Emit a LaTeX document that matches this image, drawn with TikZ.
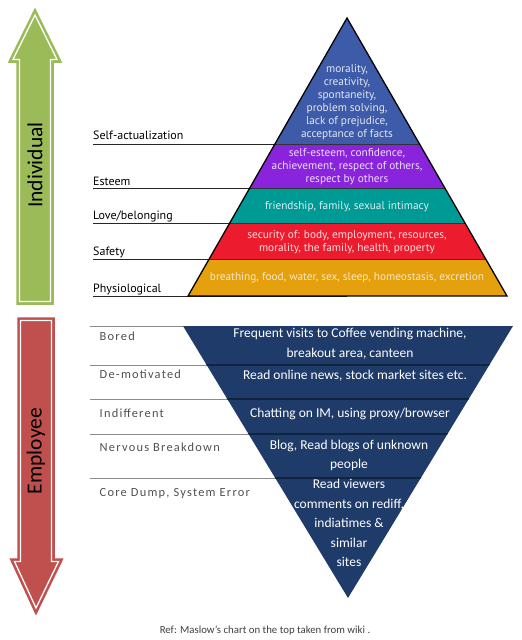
\documentclass[tikz,border=0pt]{standalone}
\usepackage{fontspec}
\setmainfont{PT Sans}
\newfontfamily\calfont{Carlito}
\newfontfamily\lblfont[LetterSpace=10]{Carlito}
\usetikzlibrary{calc}
\definecolor{indgreen}{HTML}{9BBB59}
\definecolor{empred}{HTML}{C0504D}
\definecolor{selfblue}{HTML}{3D5BA9}
\definecolor{esteempurple}{HTML}{8A24DC}
\definecolor{loveteal}{HTML}{009A94}
\definecolor{safetyred}{HTML}{EC1C2E}
\definecolor{physorange}{HTML}{E5A00D}
\definecolor{worknavy}{HTML}{1E3B69}
\definecolor{worksep}{HTML}{10243F}
\definecolor{labelgray}{HTML}{505050}

\begin{document}
\begin{tikzpicture}[x=1pt, y=-1pt,
    bandtext/.style={align=center, inner sep=0pt, font=\fontsize{11.3}{13}\selectfont},
    needlabel/.style={anchor=base west, inner sep=0pt, font=\fontsize{12}{12}\selectfont},
    worktext/.style={align=center, inner sep=0pt, text=white,
      font=\calfont\fontsize{13.5}{19.5}\selectfont},
    worklabel/.style={anchor=west, inner sep=0pt, text=labelgray,
      font=\lblfont\fontsize{12.4}{13}\selectfont},
    bigarrow/.style={line width=2.6pt, double distance=1.3pt, double=white, line join=miter},
    arrowtext/.style={rotate=90, inner sep=0pt, font=\calfont\fontsize{21.5}{21.5}\selectfont},
    levelline/.style={line width=0.9pt, draw=black!85},
    workline/.style={line width=0.8pt, draw=black!45}
  ]
  \useasboundingbox (0,0) rectangle (522,640);

  % side arrows
  \draw[bigarrow, draw=indgreen, fill=indgreen] (35,15) -- (57,59.5) -- (50.5,59.5)
    -- (50.5,301.5) -- (19.5,301.5) -- (19.5,59.5) -- (13,59.5) -- cycle;
  \node[arrowtext] (individual) at (35,165) {Individual};
  \draw[bigarrow, draw=empred, fill=empred] (20.5,320.5) -- (51.5,320.5) -- (51.5,561.5)
    -- (58.5,561.5) -- (36,608) -- (14.5,561.5) -- (20.5,561.5) -- cycle;
  \node[arrowtext] (employee) at (36,451) {Employee};

  % Maslow pyramid
  \coordinate (apex) at (347,18);
  \coordinate (pbl) at (188,296);
  \coordinate (pbr) at (507,296);
  \foreach \y in {144,188,223,259,296}
    \draw[levelline] (93,\y) coordinate (lvl\y) -- (lvl\y -| apex);
  \begin{scope}
    \clip (apex) -- (pbl) -- (pbr) -- cycle;
    \fill[selfblue] (0,0) rectangle (522,144);
    \fill[esteempurple] (0,144) rectangle (522,188);
    \fill[loveteal] (0,188) rectangle (522,223);
    \fill[safetyred] (0,223) rectangle (522,259);
    \fill[physorange] (0,259) rectangle (522,296);
    \foreach \y in {144,188,223,259}
      \draw[line width=0.9pt, black!80] (0,\y) -- (522,\y);
  \end{scope}
  \draw[line width=1.3pt, line join=miter] (apex) -- (pbl) -- (pbr) -- cycle;

  \node[bandtext, text=white!85!selfblue] (selftext) at (347,102.5)
    {morality,\\creativity,\\spontaneity,\\problem solving,\\lack of prejudice,\\acceptance of facts};
  \node[bandtext, text=white!85!esteempurple] (esteemtext) at (347,167)
    {self-esteem, confidence,\\achievement, respect of others,\\respect by others};
  \node[bandtext, text=white!85!loveteal] (lovetext) at (347,207)
    {friendship, family, sexual intimacy};
  \node[bandtext, text=white!85!safetyred] (safetytext) at (347,242.5)
    {security of: body, employment, resources,\\morality, the family, health, property};
  \node[bandtext, text=white!75!physorange] (phystext) at (347,278)
    {breathing, food, water, sex, sleep, homeostasis, excretion};

  \node[needlabel] (selfact) at (93,139) {Self-actualization};
  \node[needlabel] (esteem) at (93,185) {Esteem};
  \node[needlabel] (love) at (93,219) {Love/belonging};
  \node[needlabel] (safety) at (93,255) {Safety};
  \node[needlabel] (physio) at (93,292) {Physiological};

  % employee triangle
  \coordinate (vtl) at (183,326);
  \coordinate (vtr) at (513,326);
  \coordinate (vtip) at (348,598);
  \foreach \y in {326,365,399,434,478}
    \draw[workline] (90,\y) coordinate (wrk\y) -- (wrk\y -| vtip);
  \begin{scope}
    \clip (vtl) -- (vtr) -- (vtip) -- cycle;
    \fill[worknavy] (0,320) rectangle (522,600);
    \foreach \y in {365,399,434,478}
      \draw[line width=1.2pt, worksep] (0,\y) -- (522,\y);
  \end{scope}

  \node[worktext] (boredtext) at (350,343.5)
    {Frequent visits to Coffee vending machine,\\breakout area, canteen};
  \node[worktext] (demotext) at (355,376) {Read online news, stock market sites etc.};
  \node[worktext] (indiftext) at (350,414) {Chatting on IM, using proxy/browser};
  \node[worktext] (nervtext) at (349,455.5) {Blog, Read blogs of unknown\\people};
  \node[worktext] (coretext) at (349,523)
    {Read viewers\\comments on rediff,\\indiatimes \&\\similar\\sites};

  \node[worklabel] (bored) at (99.5,336) {Bored};
  \node[worklabel] (demot) at (99.5,374) {De-motivated};
  \node[worklabel] (indif) at (99.5,413) {Indifferent};
  \node[worklabel] (nerv) at (99.5,447) {Nervous Breakdown};
  \node[worklabel] (core) at (99.5,493) {Core Dump, System Error};

  \node[inner sep=0pt, text=black!75, font=\calfont\fontsize{10.8}{12}\selectfont] (ref)
    at (265,631) {Ref: Maslow’s chart on the top taken from wiki .};
\end{tikzpicture}
\end{document}
